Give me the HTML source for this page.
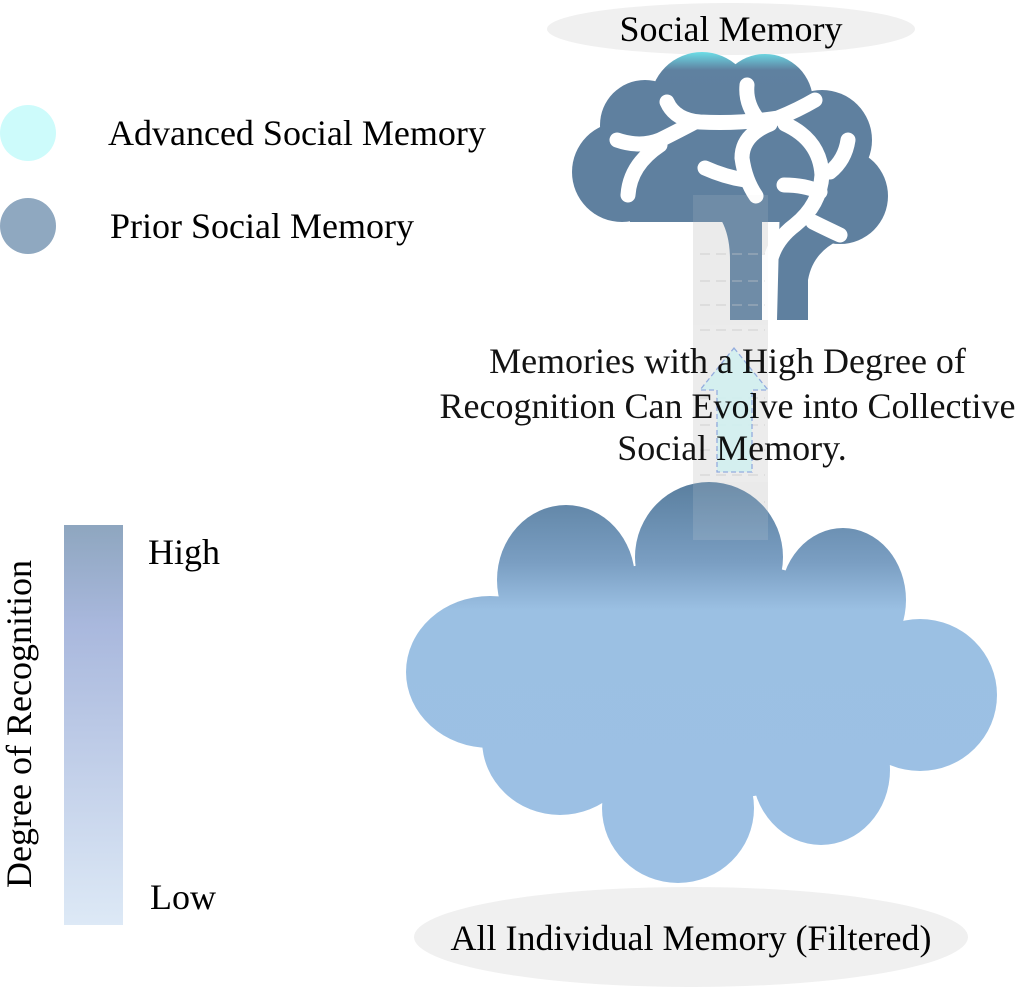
<!DOCTYPE html>
<html><head><meta charset="utf-8"><style>
html,body{margin:0;padding:0;background:#fff}
svg{display:block}
text{font-family:"Liberation Serif",serif;fill:#000}
</style></head><body>
<svg width="1019" height="990" viewBox="0 0 1019 990" xmlns="http://www.w3.org/2000/svg">
<defs>
<linearGradient id="cg" x1="0" y1="482" x2="0" y2="883" gradientUnits="userSpaceOnUse">
<stop offset="0" stop-color="#5a7f9f"/>
<stop offset="0.2" stop-color="#7a9ec2"/>
<stop offset="0.32" stop-color="#9bc0e3"/>
<stop offset="1" stop-color="#9cc0e4"/>
</linearGradient>
<linearGradient id="bg" x1="0" y1="525" x2="0" y2="925" gradientUnits="userSpaceOnUse">
<stop offset="0" stop-color="#8ea6bf"/>
<stop offset="0.25" stop-color="#a9b8dd"/>
<stop offset="1" stop-color="#dde9f6"/>
</linearGradient>
<linearGradient id="brg" x1="0" y1="50" x2="0" y2="90" gradientUnits="userSpaceOnUse">
<stop offset="0" stop-color="#6ee8ef"/>
<stop offset="0.5" stop-color="#5f81a0"/>
<stop offset="1" stop-color="#5f809f"/>
</linearGradient>
</defs>

<ellipse cx="731" cy="29" rx="184" ry="26" fill="#f0f0f0"/>
<text x="731" y="41" font-size="36" text-anchor="middle">Social Memory</text>

<circle cx="28" cy="133" r="28" fill="#cdfbfb"/>
<text x="108" y="145" font-size="36">Advanced Social Memory</text>
<circle cx="28" cy="226" r="28" fill="#8fa8c0"/>
<text x="110" y="238" font-size="36">Prior Social Memory</text>

<!-- band (under) -->
<rect x="693" y="195" width="75" height="345" fill="#ececec"/>
<g stroke="#cfcfcf" stroke-width="1" stroke-dasharray="10 6">
<line x1="700" y1="254" x2="765" y2="254"/><line x1="700" y1="281" x2="765" y2="281"/>
<line x1="700" y1="305" x2="765" y2="305"/><line x1="700" y1="330" x2="765" y2="330"/>
<line x1="700" y1="398" x2="765" y2="398"/><line x1="700" y1="425" x2="765" y2="425"/>
<line x1="700" y1="450" x2="765" y2="450"/><line x1="700" y1="475" x2="765" y2="475"/>
<line x1="700" y1="502" x2="765" y2="502"/><line x1="700" y1="527" x2="765" y2="527"/>
</g>

<!-- brain -->
<g fill="url(#brg)">
<circle cx="622" cy="172" r="50"/>
<circle cx="645" cy="125" r="45"/>
<circle cx="702" cy="104" r="52"/>
<circle cx="765" cy="102" r="48"/>
<circle cx="822" cy="140" r="50"/>
<circle cx="840" cy="196" r="48"/>
<rect x="630" y="110" width="200" height="112"/>
<path d="M700 200 Q730 215 730 260 L730 320 L762 320 L762 220 Z"/>
<path d="M777 320 L808 320 L808 280 Q815 240 868 232 L860 180 L780 200 Z"/>
</g>
<g fill="none" stroke="#fff" stroke-width="15" stroke-linecap="round" stroke-linejoin="round">
<path d="M667 102 Q675 120 700 122 Q740 124 778 118 Q798 110 815 100"/>
<path d="M617 140 Q640 148 660 140 Q680 130 695 122"/>
<path d="M628 195 Q630 165 660 145"/>
<path d="M747 85 Q745 105 760 122"/>
<path d="M770 124 Q742 135 742 158 Q745 180 756 196"/>
<path d="M705 168 Q725 177 745 180"/>
<path d="M785 124 Q820 140 822 175 Q820 205 795 225 Q775 240 770 262"/>
<path d="M848 140 Q845 160 830 172"/>
<path d="M784 185 Q805 185 820 192"/>
<path d="M813 222 Q825 228 840 235"/>
</g>
<rect x="762" y="255" width="15" height="65" fill="#fff"/>
<rect x="693" y="195" width="75" height="130" fill="#e6e6e6" opacity="0.12"/>
<g stroke="#cfcfcf" stroke-width="1" stroke-dasharray="10 6" opacity="0.6">
<line x1="700" y1="254" x2="765" y2="254"/><line x1="700" y1="281" x2="765" y2="281"/>
<line x1="700" y1="305" x2="765" y2="305"/>
</g>

<path d="M734 348 L768 390 L752 390 L752 472 L717 472 L717 390 L700 390 Z" fill="#d2f0f0" stroke="#8aa6dd" stroke-width="1.3" stroke-dasharray="5 3" opacity="0.9"/>

<text font-size="36" text-anchor="middle" fill="#000" opacity="0.92">
<tspan x="732" y="373">Memories with a High Degree of</tspan>
<tspan x="732" y="418">Recognition Can Evolve into Collective</tspan>
<tspan x="732" y="460">Social Memory.</tspan>
</text>

<!-- cloud -->
<g fill="url(#cg)">
<ellipse cx="709" cy="557" rx="74" ry="75"/>
<ellipse cx="566" cy="580" rx="69" ry="75"/>
<ellipse cx="843" cy="600" rx="63" ry="72"/>
<ellipse cx="490" cy="672" rx="84" ry="76"/>
<ellipse cx="920" cy="695" rx="77" ry="76"/>
<ellipse cx="560" cy="740" rx="78" ry="75"/>
<ellipse cx="678" cy="808" rx="76" ry="75"/>
<ellipse cx="821" cy="770" rx="69" ry="75"/>
<ellipse cx="700" cy="680" rx="210" ry="120"/>
</g>
<rect x="693" y="482" width="75" height="58" fill="#e6e6e6" opacity="0.15"/>

<ellipse cx="691" cy="937" rx="277" ry="50" fill="#f0f0f0"/>
<text x="691" y="950" font-size="36" text-anchor="middle">All Individual Memory (Filtered)</text>

<rect x="64" y="525" width="59" height="400" fill="url(#bg)"/>
<text x="148" y="564" font-size="36">High</text>
<text x="150" y="909" font-size="36">Low</text>
<text transform="translate(31,724) rotate(-90)" font-size="36" text-anchor="middle">Degree of Recognition</text>
</svg>
</body></html>
